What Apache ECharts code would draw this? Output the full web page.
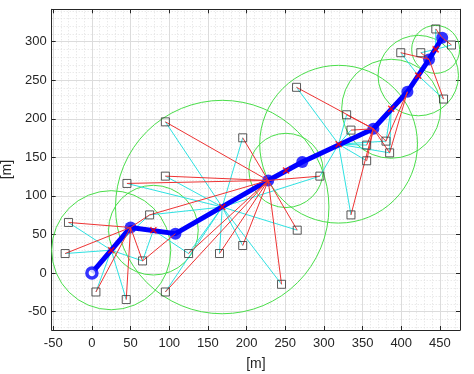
<!DOCTYPE html>
<html><head><meta charset="utf-8">
<script src="https://cdn.jsdelivr.net/npm/echarts@6/dist/echarts.min.js"></script>
<style>html,body{margin:0;padding:0;background:#fff}#c{width:474px;height:374px}</style>
</head><body><div id="c"></div>
<script>
// Robot poses (blue path nodes)
const poses = [[0,0],[50,59],[108,51],[228,120],[272,144],[364,187],[408,235],[436,277],[453,305]];
// Segment mid points (red x markers)
const mids = [[25,29.5],[79.5,55.5],[168.5,85.5],[251,133],[319,167],[387,213],[422,256],[444.5,290]];
// Green circle radii (around mid points)
const radii = [77,58,138,48,102,64,52,31];
// Landmarks (squares)
const landmarks = [[-30.3,65.5],[-34.6,25.2],[5.2,-24.7],[44.4,-34.5],[65.5,15.6],[45.3,116.1],[74.6,75.3],[95,196],[95,125.6],
  [264.6,240.8],[195,175.3],[265.5,55.5],[125,25.2],[165,25.2],[195,35.6],[245.2,-14.7],[95,-24.7],
  [335,185.3],[355.3,165.8],[355.3,145.5],[380.3,171],[385,155.8],[294.8,125.6],[335,75.3],[329.4,205.2],
  [399.4,285.7],[425.3,285.7],[444.7,316.5],[465,295.7],[454.7,225.6]];
// landmark -> pose (red)
const redLinks = [[0,1],[1,1],[2,1],[3,1],[4,1],[4,2],[5,3],[6,1],[6,3],[7,3],[8,3],[9,5],[10,3],[11,3],[12,3],[13,3],[14,3],[15,3],[16,3],
  [17,5],[18,5],[19,5],[20,5],[20,6],[21,5],[21,6],[22,3],[23,5],[24,5],[25,7],[26,7],[27,8],[28,8],[29,7]];
// landmark -> mid point (cyan)
const cyanLinks = [[0,0],[1,0],[2,0],[3,0],[4,0],[4,1],[5,2],[6,0],[6,2],[7,2],[8,2],[9,4],[10,2],[11,2],[12,1],[12,2],[13,2],[14,2],[15,2],[16,2],
  [17,4],[18,4],[19,4],[20,4],[20,5],[21,4],[21,5],[22,2],[22,4],[23,4],[24,4],[25,6],[26,7],[27,7],[28,7],[29,6]];
const xTicks = [-50,0,50,100,150,200,250,300,350,400,450];
const yTicks = [-50,0,50,100,150,200,250,300];
const X_MIN = -52, X_MAX = 476, Y_MIN = -74, Y_MAX = 342;

const xMinor = [], yMinor = [];
for (let v = -50; v <= X_MAX; v += 10) if (v % 50 !== 0) xMinor.push(v);
for (let v = -70; v <= Y_MAX; v += 10) if (v % 50 !== 0) yMinor.push(v);

const circleData = mids.map((m, i) => [m[0], m[1], radii[i]]);
const redSegs = redLinks.map(([l, p]) => [landmarks[l][0], landmarks[l][1], poses[p][0], poses[p][1]]);
const cyanSegs = cyanLinks.map(([l, m]) => [landmarks[l][0], landmarks[l][1], mids[m][0], mids[m][1]]);

const TXT = '#262626', AX = '#262626';
const font = 'Liberation Sans, Arial, Helvetica, sans-serif';

function segSeries(data, color, z) {
  return {
    type: 'custom', z: z, silent: true, clip: true,
    encode: { x: [0, 2], y: [1, 3] },
    data: data,
    renderItem: function (params, api) {
      const a = api.coord([api.value(0), api.value(1)]);
      const b = api.coord([api.value(2), api.value(3)]);
      return { type: 'line', shape: { x1: a[0], y1: a[1], x2: b[0], y2: b[1] }, style: { stroke: color, lineWidth: 1 } };
    }
  };
}

function mainX() {
  return { type: 'value', min: X_MIN, max: X_MAX, position: 'bottom',
    axisLine: { show: true, onZero: false, lineStyle: { color: AX, width: 1 } },
    axisTick: { show: true, inside: true, length: 4, customValues: xTicks, lineStyle: { color: AX } },
    axisLabel: { customValues: xTicks, color: TXT, fontSize: 13, fontFamily: font, margin: 7 },
    splitLine: { show: true, lineStyle: { color: '#dcdcdc', width: 1 } },
    name: '[m]', nameLocation: 'middle', nameGap: 27,
    nameTextStyle: { color: TXT, fontSize: 14, fontFamily: font } };
}
function mainY() {
  return { type: 'value', min: Y_MIN, max: Y_MAX, position: 'left',
    axisLine: { show: true, onZero: false, lineStyle: { color: AX, width: 1 } },
    axisTick: { show: true, inside: true, length: 4, customValues: yTicks, lineStyle: { color: AX } },
    axisLabel: { customValues: yTicks, color: TXT, fontSize: 13, fontFamily: font, margin: 5 },
    splitLine: { show: true, lineStyle: { color: '#dcdcdc', width: 1 } },
    name: '[m]', nameLocation: 'middle', nameGap: 33,
    nameTextStyle: { color: TXT, fontSize: 14, fontFamily: font } };
}

const option = {
  animation: false,
  backgroundColor: '#fff',
  grid: { left: 51.7, right: 14, top: 9.3, bottom: 44, containLabel: false, outerBoundsMode: 'none' },
  xAxis: [
    mainX(),
    { type: 'value', min: X_MIN, max: X_MAX, position: 'top',
      axisLine: { show: true, onZero: false, lineStyle: { color: AX } },
      axisTick: { show: true, inside: true, length: 4, customValues: xTicks, lineStyle: { color: AX } },
      axisLabel: { show: false }, splitLine: { show: false } },
    { type: 'value', min: X_MIN, max: X_MAX, position: 'bottom',
      axisLine: { show: false, onZero: false }, axisTick: { show: false, customValues: xMinor },
      axisLabel: { show: false },
      splitLine: { show: true, lineStyle: { color: '#e0e0e0', width: 1, type: [1, 2] } } }
  ],
  yAxis: [
    mainY(),
    { type: 'value', min: Y_MIN, max: Y_MAX, position: 'right',
      axisLine: { show: true, onZero: false, lineStyle: { color: AX } },
      axisTick: { show: true, inside: true, length: 4, customValues: yTicks, lineStyle: { color: AX } },
      axisLabel: { show: false }, splitLine: { show: false } },
    { type: 'value', min: Y_MIN, max: Y_MAX, position: 'left',
      axisLine: { show: false, onZero: false }, axisTick: { show: false, customValues: yMinor },
      axisLabel: { show: false },
      splitLine: { show: true, lineStyle: { color: '#e0e0e0', width: 1, type: [1, 2] } } }
  ],
  series: [
    {
      type: 'custom', z: 2, silent: true, clip: true,
      encode: { x: 0, y: 1 },
      data: circleData,
      renderItem: function (params, api) {
        const c = api.coord([api.value(0), api.value(1)]);
        const r = api.size([api.value(2), 0])[0];
        return { type: 'circle', shape: { cx: c[0], cy: c[1], r: r }, style: { fill: 'none', stroke: '#4ade4a', lineWidth: 1 } };
      }
    },
    segSeries(cyanSegs, '#2ee2e2', 3),
    {
      type: 'line', z: 4, data: poses, showSymbol: false, silent: true,
      lineStyle: { color: '#0000ff', width: 5 }
    },
    {
      type: 'scatter', z: 5, silent: true, symbol: 'circle', symbolSize: 12,
      data: poses.map((p, i) => i === 0
        ? { value: p, symbolSize: 10, itemStyle: { color: '#ffffff', borderColor: '#0000ff', borderWidth: 3.5 } }
        : { value: p }),
      itemStyle: { color: '#0000ff' }
    },
    segSeries(redSegs, '#ee3333', 6),
    {
      type: 'scatter', z: 7, silent: true, data: mids,
      symbol: 'path://M0,0L10,10M10,0L0,10', symbolSize: 6,
      itemStyle: { color: 'none', borderColor: '#ff0000', borderWidth: 1.5 }
    },
    {
      type: 'scatter', z: 8, silent: true, data: landmarks,
      symbol: 'rect', symbolSize: 8,
      itemStyle: { color: 'rgba(0,0,0,0)', borderColor: '#333333', borderWidth: 1 }
    }
  ]
};
const chart = echarts.init(document.getElementById('c'), null, { renderer: 'canvas' });
chart.setOption(option);
</script>
</body></html>
